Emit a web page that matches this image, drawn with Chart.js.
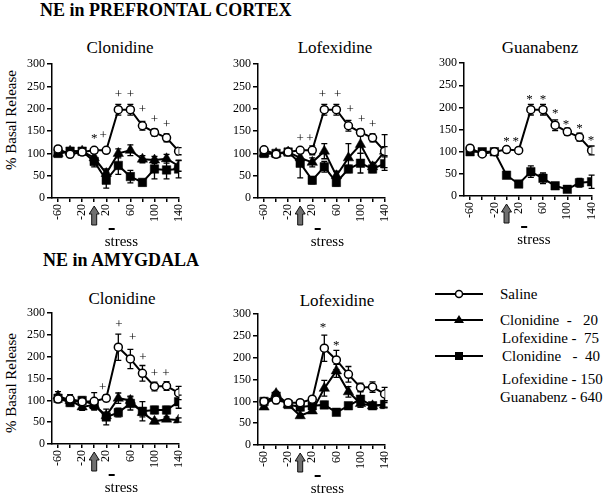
<!DOCTYPE html>
<html>
<head>
<meta charset="utf-8">
<script src="https://cdn.jsdelivr.net/npm/chart.js@4.4.1/dist/chart.umd.min.js"></script>
<style>
body{margin:0;background:#fff;font-family:'Liberation Serif','Times New Roman',serif;color:#000}
#page{position:relative;width:608px;height:493px;overflow:hidden}
.box{position:absolute}
.t{position:absolute;white-space:pre;line-height:1}
.c{transform:translate(-50%,-50%)}
.v{transform:translate(-50%,-50%) rotate(-90deg)}
.m{transform:translateY(-50%)}
</style>
</head>
<body>
<div id="page">
  <div class="t" style="left:40px;top:1px;font-size:18px;font-weight:bold">NE in PREFRONTAL CORTEX</div>
  <div class="t" style="left:43px;top:251px;font-size:18px;font-weight:bold">NE in AMYGDALA</div>

  <div class="t c" style="left:120px;top:47px;font-size:17px">Clonidine</div>
  <div class="t c" style="left:335px;top:47px;font-size:17px">Lofexidine</div>
  <div class="t c" style="left:540px;top:47px;font-size:17px">Guanabenz</div>
  <div class="t c" style="left:122px;top:298px;font-size:17px">Clonidine</div>
  <div class="t c" style="left:337px;top:300px;font-size:17px">Lofexidine</div>

  <div class="t v" style="left:11px;top:120px;font-size:15px">% Basal Release</div>
  <div class="t v" style="left:11px;top:383px;font-size:15px">% Basal Release</div>

  <div class="box" style="left:0;top:55px;width:195px;height:200px"><canvas id="p1"></canvas></div>
  <div class="box" style="left:206px;top:55px;width:195px;height:200px"><canvas id="p2"></canvas></div>
  <div class="box" style="left:412px;top:54px;width:196px;height:200px"><canvas id="p3"></canvas></div>
  <div class="box" style="left:0;top:304px;width:195px;height:189px"><canvas id="p4"></canvas></div>
  <div class="box" style="left:206px;top:305px;width:195px;height:188px"><canvas id="p5"></canvas></div>

  <svg class="box" style="left:430px;top:280px" width="60" height="90">
    <line x1="5" y1="14" x2="53" y2="14" stroke="#000" stroke-width="2"/>
    <circle cx="29" cy="14" r="3.5" fill="#fff" stroke="#000" stroke-width="1.5"/>
    <line x1="5" y1="40" x2="53" y2="40" stroke="#000" stroke-width="2"/>
    <polygon points="29,35 34,43 24,43" fill="#000"/>
    <line x1="5" y1="76" x2="53" y2="76" stroke="#000" stroke-width="2"/>
    <rect x="25" y="72" width="8" height="8" fill="#000"/>
  </svg>
  <div class="t m" style="left:500px;top:294px;font-size:15px">Saline</div>
  <div class="t m" style="left:500px;top:320px;font-size:15px">Clonidine  -   20</div>
  <div class="t m" style="left:502px;top:338px;font-size:15px">Lofexidine -  75</div>
  <div class="t m" style="left:502px;top:356px;font-size:15px">Clonidine   -  40</div>
  <div class="t m" style="left:502px;top:379px;font-size:15px">Lofexidine - 150</div>
  <div class="t m" style="left:500px;top:397px;font-size:15px">Guanabenz - 640</div>
</div>

<script>
// sample times (min), arrow at 0
const times = [-60, -40, -20, 0, 20, 40, 60, 80, 100, 120, 140]
const tickLabels = [-60, -20, 20, 60, 100, 140]

// prefrontal cortex, clonidine
const pfcCloSaline = [110, 98, 103, 107, 107, 198, 198, 162, 147, 135, 105]
const pfcCloSalineErr = [5, 5, 4, 4, 4, 12, 12, 10, 8, 9, 8]
const pfcCloLow = [100, 105, 105, 90, 55, 100, 107, 87, 85, 88, 72]
const pfcCloLowErr = [5, 5, 5, 12, 10, 10, 12, 8, 8, 10, 12]
const pfcCloHigh = [100, 105, 105, 82, 40, 73, 48, 35, 65, 63, 65]
const pfcCloHighErr = [5, 5, 5, 12, 18, 20, 14, 7, 22, 20, 20]
const pfcCloMarks = [['*', 0, 140], ['+', 15, 140], ['+', 40, 233], ['+', 60, 233], ['+', 80, 198], ['+', 100, 175], ['+', 120, 164]]

// prefrontal cortex, lofexidine
const pfcLofSaline = [108, 98, 103, 107, 107, 198, 198, 162, 147, 135, 105]
const pfcLofSalineErr = [4, 4, 4, 4, 10, 12, 12, 12, 8, 9, 37]
const pfcLofLow = [100, 100, 103, 90, 80, 105, 50, 90, 120, 70, 105]
const pfcLofLowErr = [4, 4, 4, 12, 10, 17, 10, 32, 20, 10, 10]
const pfcLofHigh = [100, 100, 103, 78, 40, 70, 35, 65, 78, 65, 77]
const pfcLofHighErr = [4, 4, 4, 33, 8, 12, 8, 8, 22, 8, 15]
const pfcLofMarks = [['+', 0, 133], ['+', 16, 133], ['+', 37, 231], ['+', 62, 231], ['+', 83, 198], ['+', 102, 175], ['+', 120, 164]]

// prefrontal cortex, guanabenz
const pfcGuaSaline = [108, 95, 100, 105, 103, 195, 195, 160, 145, 133, 103]
const pfcGuaSalineErr = [4, 4, 3, 3, 5, 12, 12, 12, 8, 9, 10]
const pfcGuaHigh = [100, 100, 100, 47, 27, 55, 40, 23, 15, 30, 32]
const pfcGuaHighErr = [3, 3, 3, 3, 3, 13, 12, 5, 3, 10, 15]
const pfcGuaMarks = [['*', 0, 129], ['*', 15, 129], ['*', 38, 224], ['*', 60, 224], ['*', 80, 193], ['*', 98, 169], ['*', 120, 158], ['*', 139, 131]]

// amygdala, clonidine
const amyCloSaline = [103, 103, 97, 98, 105, 222, 195, 162, 132, 133, 117]
const amyCloSalineErr = [8, 10, 8, 20, 8, 30, 22, 18, 10, 10, 15]
const amyCloLow = [110, 100, 85, 90, 65, 105, 100, 72, 52, 57, 55]
const amyCloLowErr = [10, 8, 8, 10, 8, 12, 10, 10, 5, 5, 5]
const amyCloHigh = [105, 95, 100, 90, 62, 72, 93, 75, 78, 78, 97]
const amyCloHighErr = [8, 8, 8, 10, 18, 10, 15, 22, 8, 8, 15]
const amyCloMarks = [['+', 14, 130], ['+', 41, 275], ['+', 64, 243], ['+', 81, 198], ['+', 100, 161], ['+', 119, 161]]

// amygdala, lofexidine
const amyLofSaline = [100, 103, 97, 97, 105, 222, 195, 162, 132, 133, 117]
const amyLofSalineErr = [8, 8, 5, 5, 5, 30, 22, 18, 10, 12, 15]
const amyLofLow = [87, 118, 93, 67, 78, 130, 170, 122, 95, 90, 92]
const amyLofLowErr = [5, 5, 5, 5, 5, 18, 15, 12, 8, 5, 5]
const amyLofHigh = [100, 112, 93, 87, 90, 92, 75, 90, 105, 90, 93]
const amyLofHighErr = [5, 5, 5, 8, 8, 8, 5, 5, 18, 5, 8]
const amyLofMarks = [['*', 38, 277], ['*', 60, 234]]

const serif = "'Liberation Serif', 'Times New Roman', serif"

const decor = {
  id: 'decor',
  beforeDatasetsDraw(chart) {
    const ctx = chart.ctx, xs = chart.scales.x, ys = chart.scales.y
    ctx.save()
    ctx.strokeStyle = '#000'
    ctx.lineWidth = 1.3
    chart.data.datasets.forEach(ds => {
      ds.err.forEach((e, i) => {
        const px = xs.getPixelForValue(times[i])
        const top = ys.getPixelForValue(ds.data[i].y + e)
        const bot = ys.getPixelForValue(ds.data[i].y - e)
        ctx.beginPath()
        ctx.moveTo(px, top); ctx.lineTo(px, bot)
        ctx.moveTo(px - 3, top); ctx.lineTo(px + 3, top)
        ctx.moveTo(px - 3, bot); ctx.lineTo(px + 3, bot)
        ctx.stroke()
      })
    })
    ctx.restore()
  },
  afterDraw(chart) {
    const ctx = chart.ctx, xs = chart.scales.x, ys = chart.scales.y
    const base = chart.chartArea.bottom
    const marks = chart.options.plugins.decor.marks
    ctx.save()
    ctx.fillStyle = '#000'
    ctx.textAlign = 'center'
    ctx.textBaseline = 'middle'
    ctx.font = '13px ' + serif
    marks.forEach(([s, x, y]) => {
      ctx.fillText(s, xs.getPixelForValue(x), ys.getPixelForValue(y) + (s == '*' ? 3 : 0))
    })
    // arrow marking drug / stress onset
    const ax = xs.getPixelForValue(0)
    ctx.beginPath()
    ctx.moveTo(ax - 2.5, base + 27)
    ctx.lineTo(ax - 2.5, base + 16)
    ctx.lineTo(ax - 5, base + 16)
    ctx.lineTo(ax, base + 8)
    ctx.lineTo(ax + 5, base + 16)
    ctx.lineTo(ax + 2.5, base + 16)
    ctx.lineTo(ax + 2.5, base + 27)
    ctx.closePath()
    ctx.fillStyle = '#707070'
    ctx.fill()
    ctx.strokeStyle = '#111'
    ctx.lineWidth = 1
    ctx.stroke()
    // stress bar
    ctx.beginPath()
    ctx.strokeStyle = '#000'
    ctx.lineWidth = 2
    ctx.moveTo(xs.getPixelForValue(24), base + 31)
    ctx.lineTo(xs.getPixelForValue(34), base + 31)
    ctx.stroke()
    ctx.fillStyle = '#000'
    ctx.font = '15px ' + serif
    ctx.fillText('stress', xs.getPixelForValue(45), base + 44)
    ctx.restore()
  }
}

function series(vals, errs, kind) {
  const ds = {
    data: times.map((t, i) => ({ x: t, y: vals[i] })),
    err: errs,
    borderColor: '#000',
    borderWidth: 2,
    pointBorderColor: '#000',
    pointBorderWidth: 1.5,
    tension: 0
  }
  if (kind == 'saline') {
    ds.pointStyle = 'circle'; ds.pointRadius = 4; ds.pointBackgroundColor = '#fff'
  } else if (kind == 'low') {
    ds.pointStyle = 'triangle'; ds.pointRadius = 6; ds.pointBackgroundColor = '#000'; ds.pointBorderWidth = 0.5
  } else {
    ds.pointStyle = 'rect'; ds.pointRadius = 6; ds.pointBackgroundColor = '#000'; ds.pointBorderWidth = 0.5
  }
  return ds
}

function make_panel(id, datasets, marks, xHeight) {
  const axisLine = { display: true, drawOnChartArea: false, drawTicks: true, tickLength: 5, color: '#000', lineWidth: 1.5 }
  return new Chart(document.getElementById(id), {
    type: 'line',
    data: { datasets: datasets },
    plugins: [decor],
    options: {
      responsive: true,
      maintainAspectRatio: false,
      animation: false,
      layout: { padding: { top: 8, right: 8, left: 0, bottom: 0 } },
      plugins: {
        legend: { display: false },
        tooltip: { enabled: false },
        decor: { marks: marks }
      },
      scales: {
        x: {
          type: 'linear',
          min: -70,
          max: 140,
          afterBuildTicks: s => { s.ticks = times.map(v => ({ value: v })) },
          afterFit: s => { s.height = xHeight },
          ticks: {
            autoSkip: false,
            minRotation: 90,
            maxRotation: 90,
            padding: 2,
            color: '#000',
            font: { family: serif, size: 12 },
            callback: v => tickLabels.includes(v) ? String(v) : ''
          },
          grid: Object.assign({}, axisLine, { tickLength: 4 }),
          border: { display: true, color: '#000', width: 1.5 }
        },
        y: {
          min: 0,
          max: 300,
          afterFit: s => { s.width = 52 },
          ticks: { stepSize: 50, padding: 2, color: '#000', font: { family: serif, size: 12 } },
          grid: axisLine,
          border: { display: true, color: '#000', width: 1.5 }
        }
      }
    }
  })
}

make_panel('p1', [
  series(pfcCloSaline, pfcCloSalineErr, 'saline'),
  series(pfcCloLow, pfcCloLowErr, 'low'),
  series(pfcCloHigh, pfcCloHighErr, 'high')
], pfcCloMarks, 57)

make_panel('p2', [
  series(pfcLofSaline, pfcLofSalineErr, 'saline'),
  series(pfcLofLow, pfcLofLowErr, 'low'),
  series(pfcLofHigh, pfcLofHighErr, 'high')
], pfcLofMarks, 57)

make_panel('p3', [
  series(pfcGuaSaline, pfcGuaSalineErr, 'saline'),
  series(pfcGuaHigh, pfcGuaHighErr, 'high')
], pfcGuaMarks, 58)

make_panel('p4', [
  series(amyCloSaline, amyCloSalineErr, 'saline'),
  series(amyCloLow, amyCloLowErr, 'low'),
  series(amyCloHigh, amyCloHighErr, 'high')
], amyCloMarks, 49)

make_panel('p5', [
  series(amyLofSaline, amyLofSalineErr, 'saline'),
  series(amyLofLow, amyLofLowErr, 'low'),
  series(amyLofHigh, amyLofHighErr, 'high')
], amyLofMarks, 48)
</script>
</body>
</html>
